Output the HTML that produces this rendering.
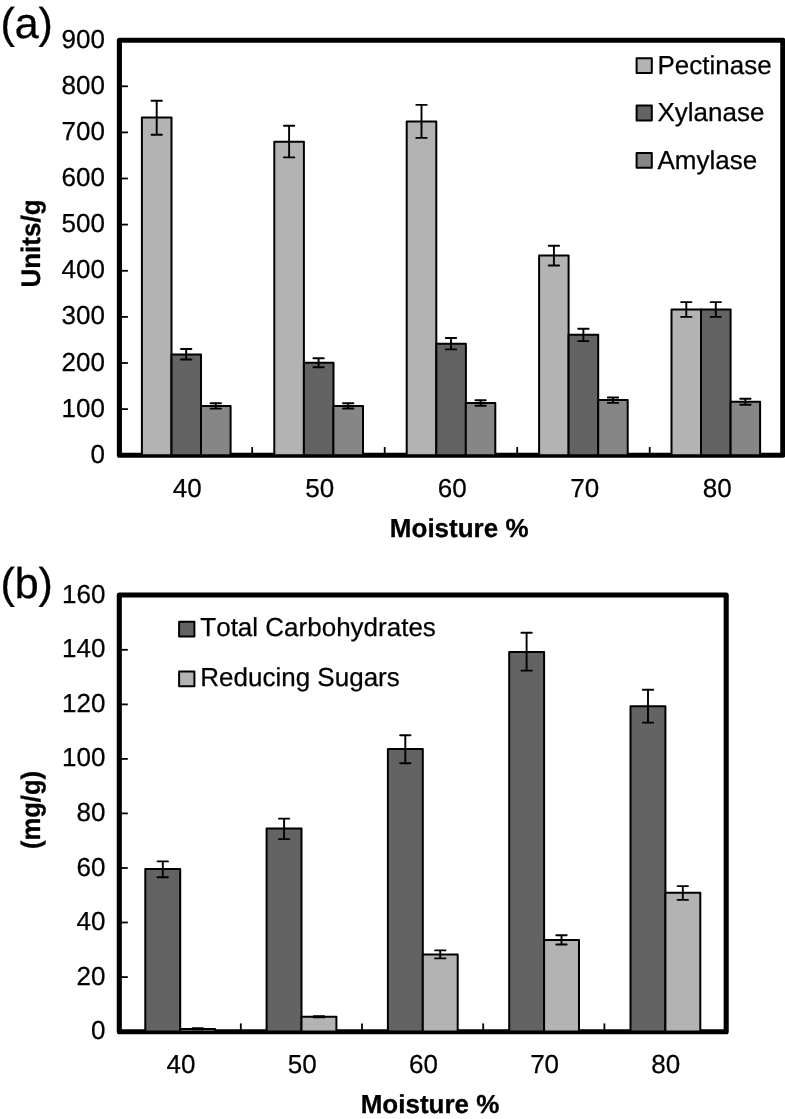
<!DOCTYPE html>
<html lang="en"><head><meta charset="utf-8"><title>Figure</title>
<style>
html,body{margin:0;padding:0;background:#fff}
svg{display:block}
text{font-family:"Liberation Sans", Arial, Helvetica, sans-serif;fill:#000;font-kerning:none;text-rendering:geometricPrecision}
.t{font-size:26px;stroke:#000;stroke-width:0.25px}
.b{font-size:26px;font-weight:bold;stroke:#000;stroke-width:0.3px}
.p{font-size:43px;stroke:#000;stroke-width:0.3px}
</style></head><body>
<svg width="785" height="1119" viewBox="0 0 785 1119">
<rect width="785" height="1119" fill="#fff"/>
<path d="M119.4 40.3H782.8V455.3H119.4Z" fill="none" stroke="#000" stroke-width="5.1" stroke-linejoin="round"/>
<path d="M119.7 409.1H127.9" stroke="#000" stroke-width="1.8"/>
<path d="M119.7 363.0H127.9" stroke="#000" stroke-width="1.8"/>
<path d="M119.7 316.9H127.9" stroke="#000" stroke-width="1.8"/>
<path d="M119.7 270.8H127.9" stroke="#000" stroke-width="1.8"/>
<path d="M119.7 224.6H127.9" stroke="#000" stroke-width="1.8"/>
<path d="M119.7 178.5H127.9" stroke="#000" stroke-width="1.8"/>
<path d="M119.7 132.4H127.9" stroke="#000" stroke-width="1.8"/>
<path d="M119.7 86.3H127.9" stroke="#000" stroke-width="1.8"/>
<path d="M252.2 455.25V447.05" stroke="#000" stroke-width="1.8"/>
<path d="M384.7 455.25V447.05" stroke="#000" stroke-width="1.8"/>
<path d="M517.2 455.25V447.05" stroke="#000" stroke-width="1.8"/>
<path d="M649.7 455.25V447.05" stroke="#000" stroke-width="1.8"/>
<rect x="141.9" y="117.5" width="29.6" height="337.8" fill="#b3b3b3" stroke="#000" stroke-width="2.0" stroke-linejoin="round"/>
<rect x="171.5" y="354.4" width="29.5" height="100.9" fill="#636363" stroke="#000" stroke-width="2.0" stroke-linejoin="round"/>
<rect x="201.0" y="406.1" width="29.6" height="49.1" fill="#868686" stroke="#000" stroke-width="2.0" stroke-linejoin="round"/>
<path d="M156.7 100.8V134.8M151.5 100.8h10.4M151.5 134.8h10.4" stroke="#000" stroke-width="1.9" stroke-linecap="round" fill="none"/>
<path d="M186.2 349.0V359.5M181.0 349.0h10.4M181.0 359.5h10.4" stroke="#000" stroke-width="1.9" stroke-linecap="round" fill="none"/>
<path d="M215.8 403.2V408.6M210.6 403.2h10.4M210.6 408.6h10.4" stroke="#000" stroke-width="1.9" stroke-linecap="round" fill="none"/>
<rect x="274.3" y="141.7" width="29.6" height="313.6" fill="#b3b3b3" stroke="#000" stroke-width="2.0" stroke-linejoin="round"/>
<rect x="303.9" y="362.8" width="29.6" height="92.4" fill="#636363" stroke="#000" stroke-width="2.0" stroke-linejoin="round"/>
<rect x="333.4" y="406.1" width="29.6" height="49.1" fill="#868686" stroke="#000" stroke-width="2.0" stroke-linejoin="round"/>
<path d="M289.1 125.7V157.4M283.9 125.7h10.4M283.9 157.4h10.4" stroke="#000" stroke-width="1.9" stroke-linecap="round" fill="none"/>
<path d="M318.6 358.2V367.3M313.4 358.2h10.4M313.4 367.3h10.4" stroke="#000" stroke-width="1.9" stroke-linecap="round" fill="none"/>
<path d="M348.2 403.2V408.5M343.0 403.2h10.4M343.0 408.5h10.4" stroke="#000" stroke-width="1.9" stroke-linecap="round" fill="none"/>
<rect x="406.7" y="121.5" width="29.6" height="333.8" fill="#b3b3b3" stroke="#000" stroke-width="2.0" stroke-linejoin="round"/>
<rect x="436.3" y="343.7" width="29.6" height="111.6" fill="#636363" stroke="#000" stroke-width="2.0" stroke-linejoin="round"/>
<rect x="465.8" y="402.9" width="29.5" height="52.4" fill="#868686" stroke="#000" stroke-width="2.0" stroke-linejoin="round"/>
<path d="M421.5 104.9V137.9M416.3 104.9h10.4M416.3 137.9h10.4" stroke="#000" stroke-width="1.9" stroke-linecap="round" fill="none"/>
<path d="M451.0 338.0V349.4M445.8 338.0h10.4M445.8 349.4h10.4" stroke="#000" stroke-width="1.9" stroke-linecap="round" fill="none"/>
<path d="M480.6 400.2V405.8M475.4 400.2h10.4M475.4 405.8h10.4" stroke="#000" stroke-width="1.9" stroke-linecap="round" fill="none"/>
<rect x="539.1" y="255.4" width="29.5" height="199.8" fill="#b3b3b3" stroke="#000" stroke-width="2.0" stroke-linejoin="round"/>
<rect x="568.6" y="334.7" width="29.6" height="120.6" fill="#636363" stroke="#000" stroke-width="2.0" stroke-linejoin="round"/>
<rect x="598.2" y="400.1" width="29.5" height="55.1" fill="#868686" stroke="#000" stroke-width="2.0" stroke-linejoin="round"/>
<path d="M553.9 245.7V265.5M548.7 245.7h10.4M548.7 265.5h10.4" stroke="#000" stroke-width="1.9" stroke-linecap="round" fill="none"/>
<path d="M583.4 328.7V341.1M578.2 328.7h10.4M578.2 341.1h10.4" stroke="#000" stroke-width="1.9" stroke-linecap="round" fill="none"/>
<path d="M613.0 397.5V402.9M607.8 397.5h10.4M607.8 402.9h10.4" stroke="#000" stroke-width="1.9" stroke-linecap="round" fill="none"/>
<rect x="671.5" y="309.4" width="29.5" height="145.9" fill="#b3b3b3" stroke="#000" stroke-width="2.0" stroke-linejoin="round"/>
<rect x="701.0" y="309.4" width="29.6" height="145.9" fill="#636363" stroke="#000" stroke-width="2.0" stroke-linejoin="round"/>
<rect x="730.6" y="401.8" width="29.5" height="53.4" fill="#868686" stroke="#000" stroke-width="2.0" stroke-linejoin="round"/>
<path d="M686.3 302.1V316.9M681.1 302.1h10.4M681.1 316.9h10.4" stroke="#000" stroke-width="1.9" stroke-linecap="round" fill="none"/>
<path d="M715.8 302.1V316.9M710.6 302.1h10.4M710.6 316.9h10.4" stroke="#000" stroke-width="1.9" stroke-linecap="round" fill="none"/>
<path d="M745.4 398.8V404.8M740.2 398.8h10.4M740.2 404.8h10.4" stroke="#000" stroke-width="1.9" stroke-linecap="round" fill="none"/>
<text x="105" y="462.8" text-anchor="end" class="t">0</text>
<text x="105" y="416.6" text-anchor="end" class="t">100</text>
<text x="105" y="370.5" text-anchor="end" class="t">200</text>
<text x="105" y="324.4" text-anchor="end" class="t">300</text>
<text x="105" y="278.3" text-anchor="end" class="t">400</text>
<text x="105" y="232.1" text-anchor="end" class="t">500</text>
<text x="105" y="186.0" text-anchor="end" class="t">600</text>
<text x="105" y="139.9" text-anchor="end" class="t">700</text>
<text x="105" y="93.8" text-anchor="end" class="t">800</text>
<text x="105" y="47.6" text-anchor="end" class="t">900</text>
<text x="187.2" y="497.2" text-anchor="middle" class="t">40</text>
<text x="319.8" y="497.2" text-anchor="middle" class="t">50</text>
<text x="452.2" y="497.2" text-anchor="middle" class="t">60</text>
<text x="584.8" y="497.2" text-anchor="middle" class="t">70</text>
<text x="717.2" y="497.2" text-anchor="middle" class="t">80</text>
<text x="459.2" y="536.8" text-anchor="middle" class="b">Moisture %</text>
<text transform="translate(39.8,243.5) rotate(-90) scale(1,1.03)" text-anchor="middle" class="b">Units/g</text>
<text x="0.4" y="37.8" class="p">(a)</text>
<rect x="636.6" y="58.2" width="15.2" height="14.8" fill="#b3b3b3" stroke="#000" stroke-width="2" stroke-linejoin="round"/>
<text x="657.5" y="73.7" class="t">Pectinase</text>
<rect x="636.6" y="105.6" width="15.2" height="14.8" fill="#636363" stroke="#000" stroke-width="2" stroke-linejoin="round"/>
<text x="657.5" y="121.1" class="t">Xylanase</text>
<rect x="636.6" y="153.0" width="15.2" height="14.8" fill="#868686" stroke="#000" stroke-width="2" stroke-linejoin="round"/>
<text x="657.5" y="168.5" class="t">Amylase</text>
<path d="M119.3 595.05H726.2V1031.8H119.3Z" fill="none" stroke="#000" stroke-width="5.1" stroke-linejoin="round"/>
<path d="M119.6 977.1H127.8" stroke="#000" stroke-width="1.8"/>
<path d="M119.6 922.5H127.8" stroke="#000" stroke-width="1.8"/>
<path d="M119.6 868.0H127.8" stroke="#000" stroke-width="1.8"/>
<path d="M119.6 813.4H127.8" stroke="#000" stroke-width="1.8"/>
<path d="M119.6 758.9H127.8" stroke="#000" stroke-width="1.8"/>
<path d="M119.6 704.4H127.8" stroke="#000" stroke-width="1.8"/>
<path d="M119.6 649.8H127.8" stroke="#000" stroke-width="1.8"/>
<path d="M240.8 1031.6V1023.3999999999999" stroke="#000" stroke-width="1.8"/>
<path d="M362.0 1031.6V1023.3999999999999" stroke="#000" stroke-width="1.8"/>
<path d="M483.2 1031.6V1023.3999999999999" stroke="#000" stroke-width="1.8"/>
<path d="M604.4 1031.6V1023.3999999999999" stroke="#000" stroke-width="1.8"/>
<rect x="145.3" y="869.0" width="34.9" height="162.6" fill="#636363" stroke="#000" stroke-width="2.0" stroke-linejoin="round"/>
<rect x="180.2" y="1028.9" width="34.9" height="2.7" fill="#b3b3b3" stroke="#000" stroke-width="2.0" stroke-linejoin="round"/>
<path d="M162.8 861.4V877.3M157.6 861.4h10.4M157.6 877.3h10.4" stroke="#000" stroke-width="1.9" stroke-linecap="round" fill="none"/>
<path d="M197.7 1028.3V1029.3M192.5 1028.3h10.4M192.5 1029.3h10.4" stroke="#000" stroke-width="1.9" stroke-linecap="round" fill="none"/>
<rect x="266.6" y="828.4" width="34.9" height="203.2" fill="#636363" stroke="#000" stroke-width="2.0" stroke-linejoin="round"/>
<rect x="301.5" y="1016.7" width="34.9" height="14.9" fill="#b3b3b3" stroke="#000" stroke-width="2.0" stroke-linejoin="round"/>
<path d="M284.1 818.6V839.1M278.9 818.6h10.4M278.9 839.1h10.4" stroke="#000" stroke-width="1.9" stroke-linecap="round" fill="none"/>
<path d="M319.0 1016.2V1017.4M313.8 1016.2h10.4M313.8 1017.4h10.4" stroke="#000" stroke-width="1.9" stroke-linecap="round" fill="none"/>
<rect x="387.9" y="748.9" width="34.9" height="282.7" fill="#636363" stroke="#000" stroke-width="2.0" stroke-linejoin="round"/>
<rect x="422.8" y="954.6" width="34.9" height="77.0" fill="#b3b3b3" stroke="#000" stroke-width="2.0" stroke-linejoin="round"/>
<path d="M405.3 735.2V763.3M400.1 735.2h10.4M400.1 763.3h10.4" stroke="#000" stroke-width="1.9" stroke-linecap="round" fill="none"/>
<path d="M440.2 950.4V958.4M435.1 950.4h10.4M435.1 958.4h10.4" stroke="#000" stroke-width="1.9" stroke-linecap="round" fill="none"/>
<rect x="509.2" y="652.0" width="34.9" height="379.6" fill="#636363" stroke="#000" stroke-width="2.0" stroke-linejoin="round"/>
<rect x="544.1" y="939.9" width="34.9" height="91.7" fill="#b3b3b3" stroke="#000" stroke-width="2.0" stroke-linejoin="round"/>
<path d="M526.6 632.8V670.6M521.4 632.8h10.4M521.4 670.6h10.4" stroke="#000" stroke-width="1.9" stroke-linecap="round" fill="none"/>
<path d="M561.5 935.2V944.5M556.3 935.2h10.4M556.3 944.5h10.4" stroke="#000" stroke-width="1.9" stroke-linecap="round" fill="none"/>
<rect x="630.5" y="706.3" width="34.9" height="325.3" fill="#636363" stroke="#000" stroke-width="2.0" stroke-linejoin="round"/>
<rect x="665.4" y="892.8" width="34.9" height="138.8" fill="#b3b3b3" stroke="#000" stroke-width="2.0" stroke-linejoin="round"/>
<path d="M648.0 689.8V722.6M642.8 689.8h10.4M642.8 722.6h10.4" stroke="#000" stroke-width="1.9" stroke-linecap="round" fill="none"/>
<path d="M682.8 886.1V899.9M677.6 886.1h10.4M677.6 899.9h10.4" stroke="#000" stroke-width="1.9" stroke-linecap="round" fill="none"/>
<text x="105.5" y="1039.1" text-anchor="end" class="t">0</text>
<text x="105.5" y="984.6" text-anchor="end" class="t">20</text>
<text x="105.5" y="930.0" text-anchor="end" class="t">40</text>
<text x="105.5" y="875.5" text-anchor="end" class="t">60</text>
<text x="105.5" y="820.9" text-anchor="end" class="t">80</text>
<text x="105.5" y="766.4" text-anchor="end" class="t">100</text>
<text x="105.5" y="711.9" text-anchor="end" class="t">120</text>
<text x="105.5" y="657.3" text-anchor="end" class="t">140</text>
<text x="105.5" y="602.8" text-anchor="end" class="t">160</text>
<text x="181.0" y="1073.2" text-anchor="middle" class="t">40</text>
<text x="302.2" y="1073.2" text-anchor="middle" class="t">50</text>
<text x="423.4" y="1073.2" text-anchor="middle" class="t">60</text>
<text x="544.6" y="1073.2" text-anchor="middle" class="t">70</text>
<text x="665.8" y="1073.2" text-anchor="middle" class="t">80</text>
<text x="430" y="1112.9" text-anchor="middle" class="b">Moisture %</text>
<text transform="translate(40.0,810) rotate(-90) scale(0.985,1.03)" text-anchor="middle" class="b">(mg/g)</text>
<text x="0.4" y="597.7" class="p">(b)</text>
<rect x="179.1" y="621.7" width="15.3" height="14.8" fill="#636363" stroke="#000" stroke-width="2" stroke-linejoin="round"/>
<text x="200.3" y="636.4" class="t">Total Carbohydrates</text>
<rect x="179.1" y="671.5" width="15.3" height="14.8" fill="#b3b3b3" stroke="#000" stroke-width="2" stroke-linejoin="round"/>
<text x="200.3" y="686.2" class="t">Reducing Sugars</text>
</svg>
</body></html>
